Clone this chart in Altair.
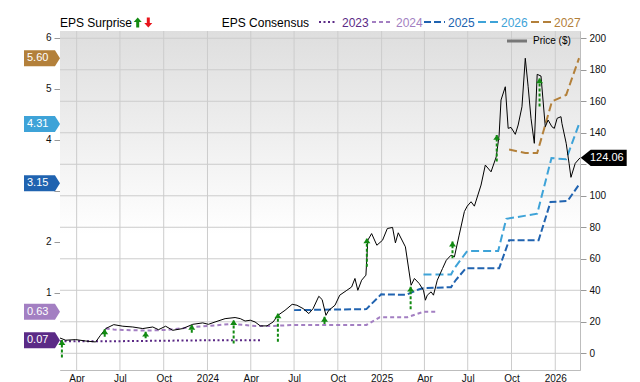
import altair as alt
import pandas as pd

# ------------------------------------------------------------------ data
price_dates = [
    "2023-02-25", "2023-03-09", "2023-03-30", "2023-04-20", "2023-05-11", "2023-05-21", "2023-06-01", "2023-06-18", "2023-07-07", "2023-07-28",
    "2023-08-18", "2023-09-08", "2023-09-20", "2023-10-05", "2023-10-20", "2023-11-10", "2023-12-01", "2023-12-22", "2024-01-03", "2024-01-17",
    "2024-02-07", "2024-02-28", "2024-03-10", "2024-03-20", "2024-03-31", "2024-04-10", "2024-04-21", "2024-05-05", "2024-05-18", "2024-05-28",
    "2024-06-12", "2024-06-27", "2024-07-07", "2024-07-20", "2024-08-01", "2024-08-10", "2024-08-22", "2024-08-29", "2024-09-06", "2024-09-12",
    "2024-09-25", "2024-10-05", "2024-10-20", "2024-10-30", "2024-11-06", "2024-11-12", "2024-11-20", "2024-11-29", "2024-12-03", "2024-12-11",
    "2024-12-22", "2025-01-03", "2025-01-13", "2025-01-24", "2025-01-30", "2025-02-05", "2025-02-20", "2025-03-04", "2025-03-11", "2025-03-21",
    "2025-03-30", "2025-04-03", "2025-04-07", "2025-04-15", "2025-04-20", "2025-04-28", "2025-05-09", "2025-05-17", "2025-05-27", "2025-06-03",
    "2025-06-13", "2025-06-24", "2025-06-30", "2025-07-08", "2025-07-15", "2025-07-29", "2025-08-07", "2025-08-19", "2025-08-30", "2025-09-05",
    "2025-09-09", "2025-09-18", "2025-09-24", "2025-09-30", "2025-10-09", "2025-10-15", "2025-10-23", "2025-10-30", "2025-11-05", "2025-11-11",
    "2025-11-18", "2025-11-24", "2025-12-02", "2025-12-11", "2025-12-17", "2025-12-25", "2025-12-30", "2026-01-05", "2026-01-13", "2026-01-15",
    "2026-01-24", "2026-01-30", "2026-02-03", "2026-02-12", "2026-02-22",
]
price_values = [
    9.7, 8.3, 8.7, 7.8, 7.2, 11.4, 15.7, 18.2, 17.2, 16.7,
    15.7, 16.7, 15.0, 17.2, 14.6, 15.7, 18.4, 19.3, 18.4, 19.9,
    22.0, 22.7, 22.0, 20.5, 21.0, 19.9, 17.4, 17.4, 19.9, 24.1,
    27.3, 31.1, 30.5, 28.4, 25.2, 28.4, 36.2, 34.1, 24.1, 27.3,
    30.5, 36.9, 40.0, 42.1, 47.5, 40.0, 46.4, 49.6, 71.8, 76.0,
    68.6, 71.8, 79.2, 79.9, 70.1, 76.5, 67.6, 43.2, 47.5, 44.3,
    40.0, 33.7, 36.9, 39.0, 36.9, 46.4, 53.8, 59.1, 62.3, 61.2,
    75.0, 90.0, 93.4, 96.2, 93.4, 106.8, 119.5, 115.2, 124.8, 138.5,
    160.8, 169.2, 142.8, 143.4, 139.0, 144.9, 156.5, 187.3, 169.2, 149.2,
    133.3, 177.1, 176.0, 143.8, 148.1, 143.8, 142.8, 149.2, 150.2, 146.0,
    133.3, 120.6, 111.7, 120.6, 124.06,
]

cons_years = ["2023", "2024", "2025", "2026", "2027"]
cons_colors = ["#5b2a86", "#a37fc2", "#2063b0", "#3ea3d8", "#b3803a"]
cons_dashes = [[2, 2.5], [4, 3], [7, 3], [8, 4], [8, 4]]

c2023_dates = ["2023-02-25", "2023-06-15", "2023-10-01", "2024-01-15", "2024-04-25"]
c2023_values = [0.05, 0.05, 0.06, 0.07, 0.07]

c2024_dates = ["2023-06-01", "2023-06-18", "2023-07-07", "2023-08-25", "2023-10-05", "2023-11-22", "2024-01-03", "2024-02-21",
               "2024-04-10", "2024-05-18", "2024-07-01", "2024-11-30", "2024-12-28", "2025-02-24", "2025-03-31", "2025-04-25"]
c2024_values = [0.30, 0.28, 0.27, 0.26, 0.27, 0.32, 0.35, 0.39, 0.35, 0.35, 0.37, 0.37, 0.52, 0.52, 0.63, 0.63]

c2025_dates = ["2024-07-01", "2024-11-30", "2024-12-31", "2025-02-22", "2025-03-21", "2025-03-30", "2025-05-27", "2025-06-06",
               "2025-06-27", "2025-09-05", "2025-09-26", "2025-11-27", "2025-12-22", "2026-01-27", "2026-02-22"]
c2025_values = [0.66, 0.68, 0.97, 0.96, 1.07, 1.09, 1.11, 1.25, 1.48, 1.48, 2.03, 2.03, 2.78, 2.80, 3.15]

c2026_dates = ["2025-03-30", "2025-05-27", "2025-06-03", "2025-06-30", "2025-09-03", "2025-09-20", "2025-11-24", "2025-12-24",
               "2026-01-24", "2026-02-20"]
c2026_values = [1.36, 1.36, 1.48, 1.82, 1.82, 2.45, 2.55, 3.64, 3.62, 4.31]

c2027_dates = ["2025-09-26", "2025-10-30", "2025-11-24", "2025-12-10", "2025-12-25", "2026-01-24", "2026-02-20"]
c2027_values = [3.81, 3.74, 3.74, 4.26, 4.75, 4.88, 5.60]

surprise_dates = ["2023-03-01", "2023-05-30", "2023-08-24", "2023-11-29", "2024-02-25", "2024-05-28",
                  "2024-09-03", "2024-12-01", "2025-03-03", "2025-05-30", "2025-08-31", "2025-11-29"]
surprise_low = [-2.7, 10.5, 9.5, 13.1, 6.3, 7.4, 18.6, 55.0, 27.9, 60.3, 121.7, 156.6]
surprise_high = [8.4, 15.2, 13.7, 18.0, 21.1, 25.4, 23.2, 73.0, 42.3, 70.9, 138.6, 174.6]

quarter_ticks = ["2023-04-01", "2023-07-01", "2023-10-01", "2024-01-01", "2024-04-01", "2024-07-01",
                 "2024-10-01", "2025-01-01", "2025-04-01", "2025-07-01", "2025-10-01", "2026-01-01"]
price_ticks = [0, 20, 40, 60, 80, 100, 120, 140, 160, 180, 200]
eps_ticks = [1, 2, 3, 4, 5, 6]

# ------------------------------------------------------------------ frames
def ts(s):
    return s + "T00:00:00"

price_df = pd.DataFrame({"date": [ts(d) for d in price_dates], "price": price_values})
last_price_df = price_df.tail(1)

cons_parts = []
for yr, ds, vs in zip(cons_years,
                      [c2023_dates, c2024_dates, c2025_dates, c2026_dates, c2027_dates],
                      [c2023_values, c2024_values, c2025_values, c2026_values, c2027_values]):
    cons_parts.append(pd.DataFrame({"year": yr, "date": [ts(d) for d in ds], "eps": vs}))
cons_df = pd.concat(cons_parts, ignore_index=True)
tag_df = cons_df.groupby("year", as_index=False).last()

surprise_df = pd.DataFrame({"date": [ts(d) for d in surprise_dates], "lo": surprise_low, "hi": surprise_high})
qtick_df = pd.DataFrame({"date": [ts(d) for d in quarter_ticks]})
ptick_df = pd.DataFrame({"p": price_ticks})
one = pd.DataFrame({"a": [0]})

# ------------------------------------------------------------------ scales / axes
W, H = 520, 339
FONT = "Liberation Sans"
GREEN = "#128a12"

xscale = alt.Scale(domain=[alt.DateTime(year=2023, month=2, date=25),
                           alt.DateTime(year=2026, month=2, date=22)], nice=False)
xaxis = alt.Axis(values=[alt.DateTime(year=int(d[:4]), month=int(d[5:7]), date=1) for d in quarter_ticks],
                 labelExpr="month(datum.value) == 0 ? timeFormat(datum.value, '%Y') : timeFormat(datum.value, '%b')",
                 grid=False, ticks=False, domainColor="#bdbdbd", labelFontSize=10, labelColor="#111",
                 labelPadding=3, labelFlush=False, labelOverlap=False, title=None)
eps_scale = alt.Scale(domain=[-0.514, 6.133], nice=False, zero=False)
price_scale = alt.Scale(domain=[-10.6, 204.6], nice=False, zero=False)
# labels hidden behind the value tags in the reference are left blank
left_axis = alt.Axis(orient="left", values=eps_ticks, grid=False, tickSize=6, tickColor="#999",
                     labelExpr="datum.value == 3 ? '' : datum.label",
                     domainColor="#bdbdbd", labelFontSize=10, labelColor="#111", labelPadding=3, title=None)
right_axis = alt.Axis(orient="right", values=price_ticks, grid=False, tickSize=6, tickColor="#999",
                      labelExpr="datum.value == 120 ? '' : datum.label",
                      domainColor="#bdbdbd", labelFontSize=10, labelColor="#111", labelPadding=3, title=None)


def X():
    return alt.X("date:T", scale=xscale, axis=xaxis)


year_color = alt.Color("year:N", scale=alt.Scale(domain=cons_years, range=cons_colors), legend=None)

# ------------------------------------------------------------------ group A: background + grid (price scale)
gradient = alt.LinearGradient(gradient="linear",
                              stops=[alt.GradientStop(color="#dedede", offset=0),
                                     alt.GradientStop(color="#ffffff", offset=0.6),
                                     alt.GradientStop(color="#ffffff", offset=1)],
                              x1=0, x2=0, y1=0, y2=1)
bg = alt.Chart(one).mark_rect(fill=gradient).encode(
    x=alt.value(0), x2=alt.value(W), y=alt.value(0), y2=alt.value(H))
vgrid = alt.Chart(qtick_df).mark_rule(color="#cccccc", strokeWidth=1).encode(x=X())
hgrid = alt.Chart(ptick_df).mark_rule(color="#cccccc", strokeWidth=1).encode(
    y=alt.Y("p:Q", scale=price_scale, axis=right_axis))
group_a = alt.layer(bg, vgrid, hgrid)

# ------------------------------------------------------------------ group B: consensus (eps scale)
eps_y = alt.Y("eps:Q", scale=eps_scale, axis=left_axis)
cons_lines = alt.Chart(cons_df).mark_line(strokeWidth=2, strokeCap="butt").encode(
    x=X(), y=eps_y, color=year_color, detail="year:N",
    strokeDash=alt.StrokeDash("year:N", scale=alt.Scale(domain=cons_years, range=cons_dashes), legend=None))
tags = alt.Chart(tag_df).mark_point(
    shape="M-1,-0.444L0.72,-0.444L1,0L0.72,0.444L-1,0.444Z", filled=True, size=1296, opacity=1, strokeWidth=0
).encode(x=alt.value(-18), y=eps_y, color=year_color)
tag_text = alt.Chart(tag_df).mark_text(align="left", baseline="middle", fontSize=11, color="white", font=FONT).encode(
    x=alt.value(-33), y=eps_y, text=alt.Text("eps:Q", format=".2f"))
group_b = alt.layer(cons_lines, tags, tag_text)

# ------------------------------------------------------------------ group C: price & surprises (price scale)
line = alt.Chart(price_df).mark_line(color="#000000", strokeWidth=1).encode(
    x=X(), y=alt.Y("price:Q", scale=price_scale, axis=None))
stems = alt.Chart(surprise_df).mark_rule(color=GREEN, strokeWidth=2, strokeDash=[3, 2]).encode(
    x=X(), y=alt.Y("lo:Q", scale=price_scale, axis=None), y2="hi:Q")
heads = alt.Chart(surprise_df).mark_point(
    shape="M0,0L1,1.4L-1,1.4Z", filled=True, size=49, opacity=1, color=GREEN, strokeWidth=0
).encode(x=X(), y=alt.Y("hi:Q", scale=price_scale, axis=None))
ptag = alt.Chart(last_price_df).mark_point(
    shape="M-1,0L-0.565,-0.348L1,-0.348L1,0.348L-0.565,0.348Z", filled=True, size=2116, opacity=1,
    color="#000000", strokeWidth=0
).encode(x=alt.value(543.7), y=alt.Y("price:Q", scale=price_scale, axis=None))
ptag_text = alt.Chart(last_price_df).mark_text(align="left", baseline="middle", fontSize=11, color="white", font=FONT).encode(
    x=alt.value(530), y=alt.Y("price:Q", scale=price_scale, axis=None), text=alt.Text("price:Q", format=".2f"))
group_c = alt.layer(line, stems, heads, ptag, ptag_text)


# ------------------------------------------------------------------ legend (layout only)
def txt(label, x, y, color="#000000", size=12):
    return alt.Chart(one).mark_text(text=label, align="left", baseline="middle", fontSize=size,
                                    color=color, font=FONT).encode(x=alt.value(x), y=alt.value(y))


def seg(x1, x2, y, color, width, dash=None):
    kw = dict(color=color, strokeWidth=width)
    if dash:
        kw["strokeDash"] = dash
    return alt.Chart(one).mark_rule(**kw).encode(x=alt.value(x1), x2=alt.value(x2), y=alt.value(y))


def arrow(x, y, color, up=True):
    path = ("M0,-1L0.8,-0.1L0.3,-0.1L0.3,1L-0.3,1L-0.3,-0.1L-0.8,-0.1Z" if up
            else "M0,1L0.8,0.1L0.3,0.1L0.3,-1L-0.3,-1L-0.3,0.1L-0.8,0.1Z")
    return alt.Chart(one).mark_point(shape=path, filled=True, size=100, opacity=1, color=color,
                                     strokeWidth=0).encode(x=alt.value(x), y=alt.value(y))


LY = -8.5
legend_layers = [
    txt("EPS Surprise", 0, LY),
    arrow(77.7, LY, GREEN, True),
    arrow(88.3, LY, "#e8141b", False),
    txt("EPS Consensus", 161.7, LY),
]
seg_x = [(259, 277, 282), (312, 333, 336), (364, 385, 388), (418, 439, 441), (471, 492, 494)]
for (a, b, t), yr, col, dash in zip(seg_x, cons_years, cons_colors, cons_dashes):
    legend_layers.append(seg(a, b, LY - 0.5, col, 2, dash))
    legend_layers.append(txt(yr, t, LY, col, 12))
legend_layers.append(seg(447, 467, 10, "#777777", 3))
legend_layers.append(txt("Price ($)", 473, 10, "#000000", 10))

chart = alt.layer(group_a, group_b, group_c, *legend_layers).resolve_scale(y="independent").properties(
    width=W, height=H,
    autosize=alt.AutoSizeParams(type="none"),
    padding={"left": 52, "top": 23, "right": 52, "bottom": 12},
).configure_view(strokeWidth=0).configure(font=FONT)

chart.save("out.html", embed_options={"renderer": "svg", "actions": False})
